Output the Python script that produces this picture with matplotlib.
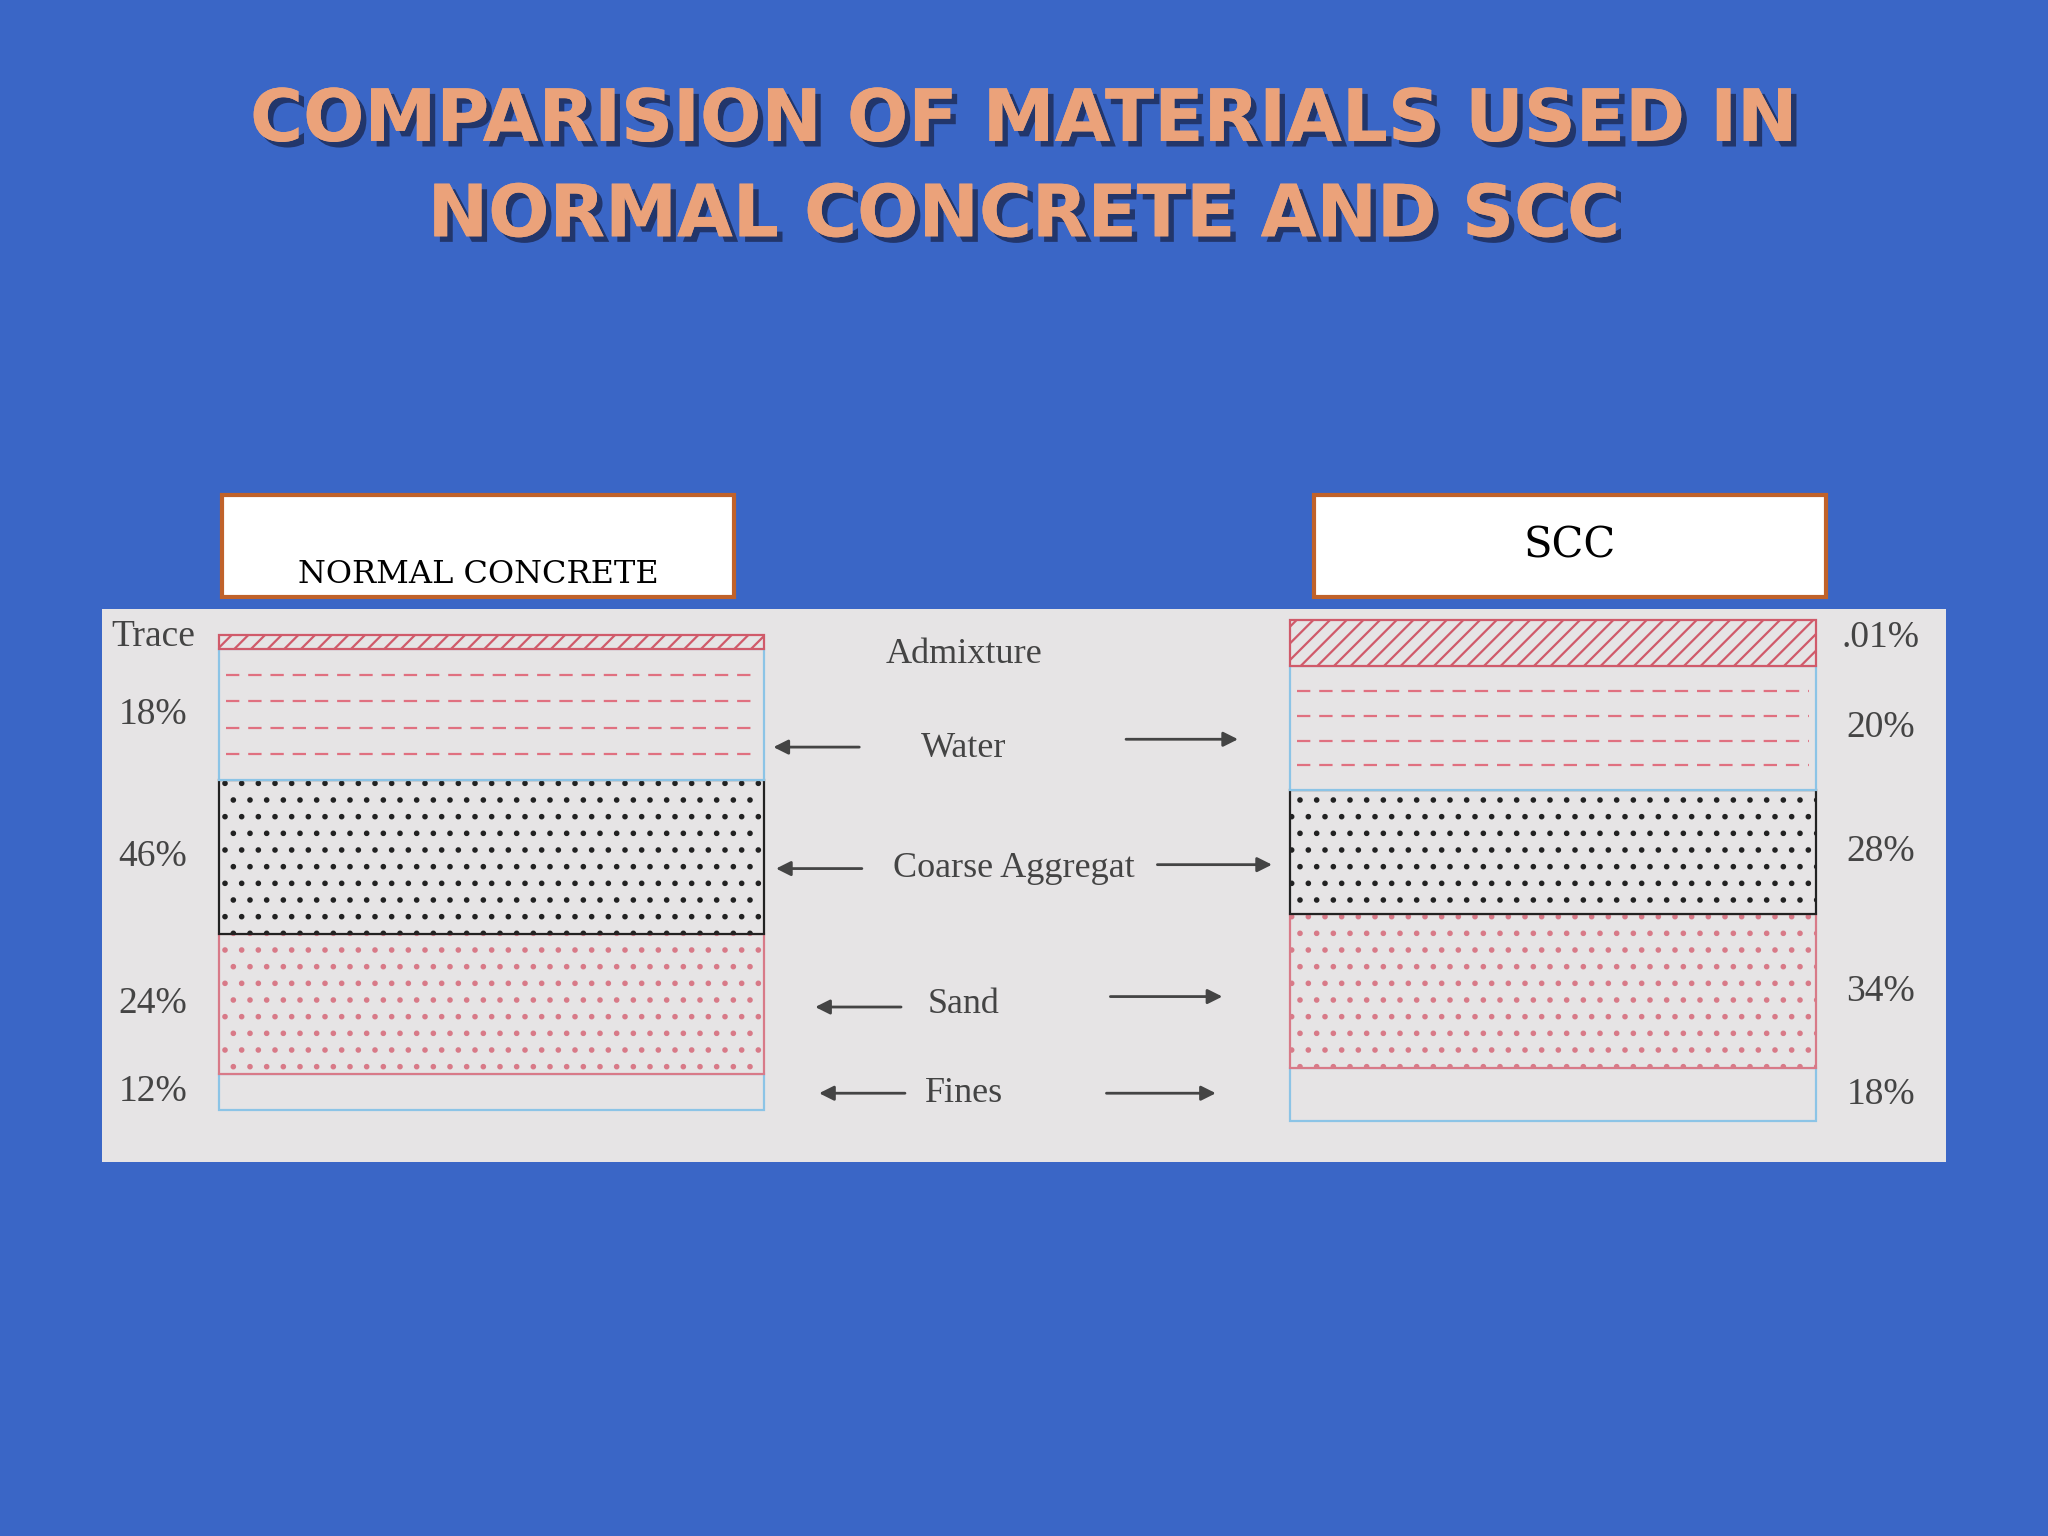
import matplotlib
matplotlib.use("Agg")
import matplotlib.pyplot as plt
from matplotlib.patches import Rectangle
import matplotlib.patheffects as pe

title_lines = ["COMPARISION OF MATERIALS USED IN", "NORMAL CONCRETE AND SCC"]
headers = ["NORMAL CONCRETE", "SCC"]
layers = ["Fines", "Sand", "Coarse Aggregat", "Water", "Admixture"]
normal_pct = ["12%", "24%", "46%", "18%", "Trace"]
scc_pct = ["18%", "34%", "28%", "20%", ".01%"]
# drawn layer thicknesses as they appear in the figure (reference pixel units)
normal_thick = [28, 107, 118, 100, 11]
scc_thick = [40, 118, 95, 95, 35]

BG = "#3a66c6"
plt.rcParams["hatch.linewidth"] = 1.6
fig = plt.figure(figsize=(20.48, 15.36), dpi=100, facecolor=BG)
ax = fig.add_axes([0, 0, 1, 1])
ax.set_xlim(0, 1568); ax.set_ylim(1176, 0); ax.axis("off")
ax.set_facecolor(BG)

for i, t in enumerate(title_lines):
    ax.text(784, 93 + 73 * i, t, ha="center", va="center", fontsize=52, weight="bold",
            family="DejaVu Sans", color="#eba27a",
            path_effects=[pe.withSimplePatchShadow(offset=(4, -4), shadow_rgbFace="#1c2a55", alpha=0.8), pe.Normal()])

# header boxes
for (x0, x1), txt, ty in [((170, 562), headers[0], 440), ((1006, 1398), headers[1], 418)]:
    ax.add_patch(Rectangle((x0, 379), x1 - x0, 78, facecolor="white", edgecolor="#c0622a", lw=3))
    ax.text((x0 + x1) / 2, ty, txt, ha="center", va="center", family="DejaVu Serif",
            fontsize=23 if txt != "SCC" else 30, color="black")

# photo panel
ax.add_patch(Rectangle((78, 466), 1412, 424, facecolor="#e6e4e5", edgecolor="none"))

styles = [
    dict(hatch="", ec="#8cc4e6"),
    dict(hatch=".", ec="#d87a88"),
    dict(hatch=".", ec="#222222"),
    dict(hatch="", ec="#8cc4e6"),
    dict(hatch="//", ec="#d05a6a"),
]

def column(x0, width, thick, bottom0, pct, px):
    b = bottom0
    for k, h in enumerate(thick):
        st = styles[k]
        ax.bar(x0 + width / 2, -h, width=width, bottom=b, color="#e6e4e5",
               edgecolor=st["ec"], linewidth=1.6, hatch=st["hatch"])
        if k == 3:
            for j in range(1, 5):
                yy = b - h * j / 5
                ax.plot([x0 + 5, x0 + width - 5], [yy, yy], color="#e07080", lw=1.6, ls=(0, (6, 4)))
        ax.text(px, b - h / 2 if k < 4 else b - h / 2 - 4, pct[k], ha="center", va="center",
                family="Liberation Serif", fontsize=27, color="#444444")
        b -= h

column(168, 417, normal_thick, 850, normal_pct, 117)
column(988, 402, scc_thick, 858, scc_pct, 1440)

mid_y = [837, 769, 665, 573, 501]
for k, name in enumerate(layers):
    ax.text(738 if k != 2 else 776, mid_y[k], name, ha="center", va="center",
            family="Liberation Serif", fontsize=26, color="#444444")
arrows = [((695, 837), (625, 837), (845, 837), (933, 837)),
          ((692, 771), (622, 771), (848, 763), (938, 763)),
          ((662, 665), (592, 665), (884, 662), (976, 662)),
          ((660, 572), (590, 572), (860, 566), (950, 566))]
for a0, a1, b0, b1 in arrows:
    for s, e in [(a0, a1), (b0, b1)]:
        ax.annotate("", xy=e, xytext=s, arrowprops=dict(arrowstyle="-|>", color="#444444", lw=2, mutation_scale=22))

fig.savefig("out.png", dpi=100, facecolor=BG)
